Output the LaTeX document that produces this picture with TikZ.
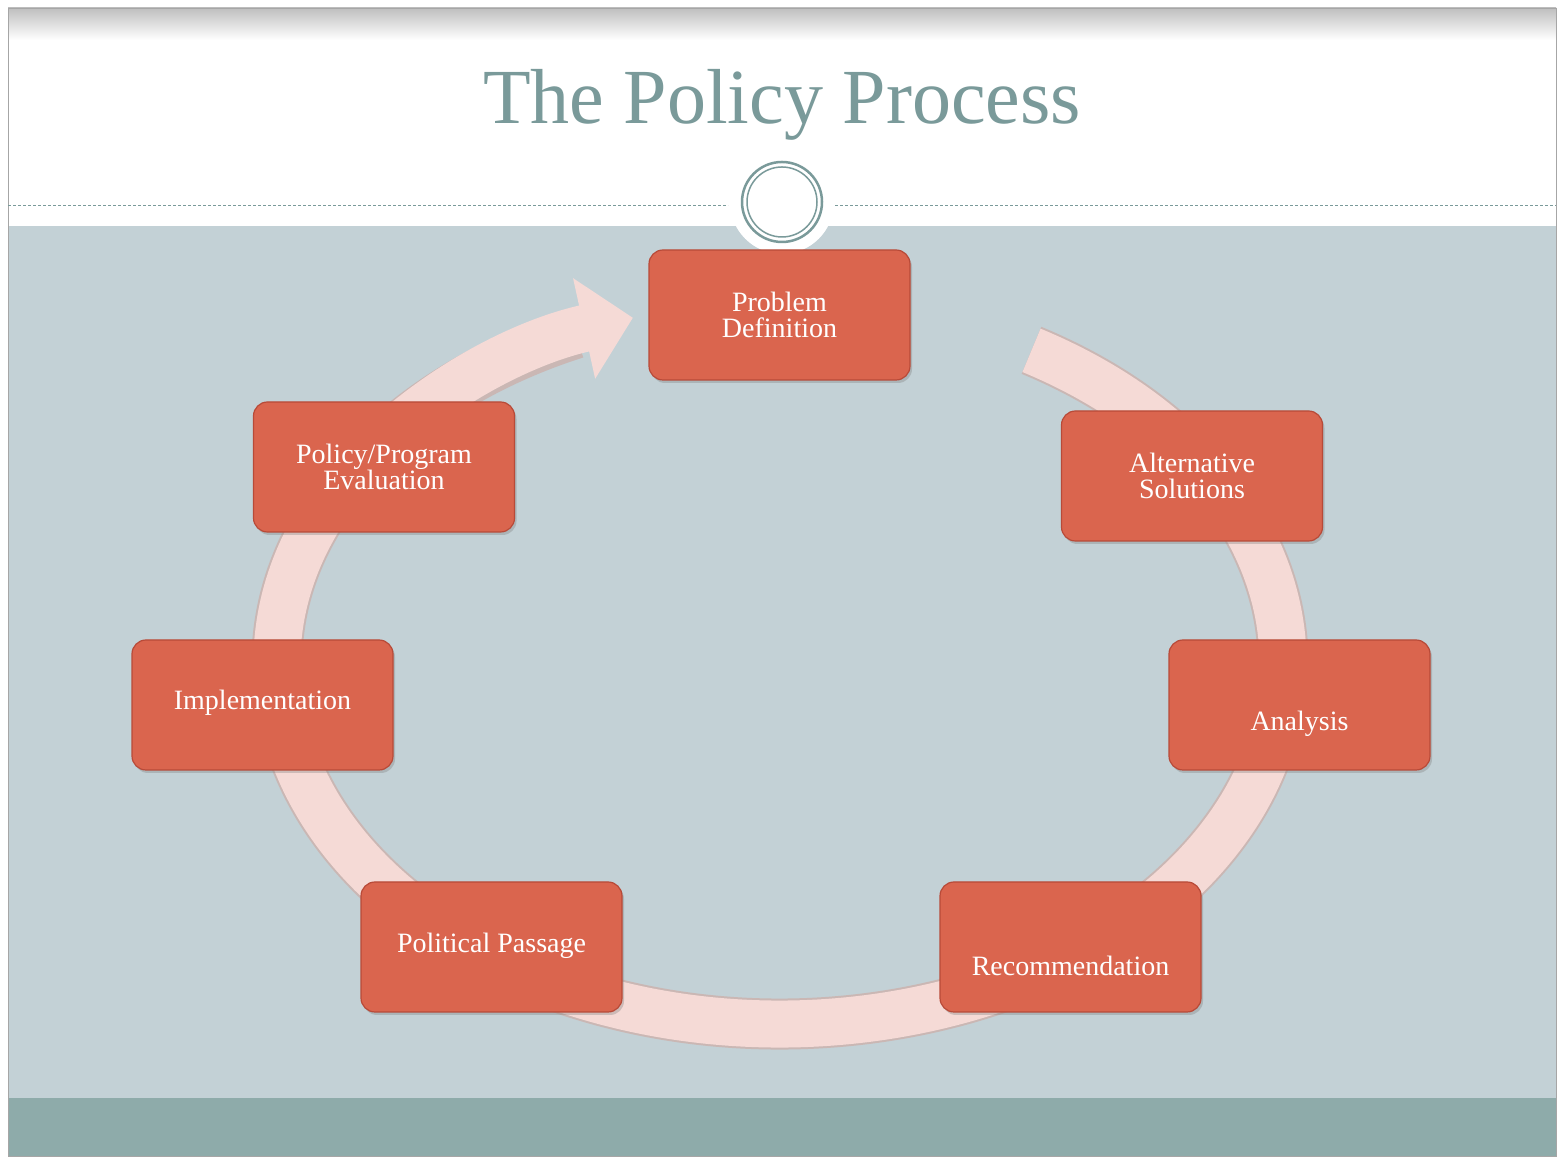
\documentclass[tikz,border=0pt]{standalone}
\usepackage{fontspec}
\setmainfont{Liberation Serif}
\usetikzlibrary{arrows.meta,shadows}
\definecolor{teal}{HTML}{7A9A9A}
\definecolor{bgblue}{HTML}{C3D1D6}
\definecolor{band}{HTML}{8EABAA}
\definecolor{ring}{HTML}{F5DAD6}
\definecolor{boxfill}{HTML}{DA654E}
\definecolor{boxedge}{HTML}{B84A38}
\tikzset{
  stepbox/.style={draw=boxedge,fill=boxfill,line width=1.2pt,rounded corners=14pt,
    minimum width=261pt,minimum height=130pt,drop shadow={opacity=0.35,shadow xshift=2pt,shadow yshift=-3pt}},
  lbl/.style={text=white,font=\fontsize{28}{28}\selectfont,align=center}
}
\begin{document}
\begin{tikzpicture}[x=1pt,y=1pt]
\useasboundingbox (0,0) rectangle (1566,1166);
\fill[white] (0,0) rectangle (1566,1166);
\shade[top color=black!25,bottom color=white] (8,1126) rectangle (1556,1158);
\fill[bgblue] (8,68) rectangle (1556,940);
\fill[band] (8,10) rectangle (1556,68);
\draw[black!35] (8,10) rectangle (1556,1158);
\draw[teal,dashed,dash pattern=on 3pt off 2pt] (8,961) -- (728,961);
\draw[teal,dashed,dash pattern=on 3pt off 2pt] (835,961) -- (1556,961);
\node[circle,fill=white,minimum size=104pt,inner sep=0] (hc) at (782,964) {};
\draw[teal,line width=2.5pt] (hc.center) circle (40);
\draw[teal,line width=1.5pt] (hc.center) circle (35);
\node[text=teal,font=\fontsize{78}{78}\selectfont] (title) at (782,1061) {The Policy Process};
\coordinate (c) at (780,503);
\draw[ring!80!black!90,line width=51pt] (c) ++(60:503 and 361) arc[start angle=60,end angle=-246,x radius=503,y radius=361];
\draw[ring,line width=47pt,-{Triangle[width=100pt,length=50pt]}] (c) ++(60:503 and 361) arc[start angle=60,end angle=-253,x radius=503,y radius=361];
\node[stepbox] (pd) at (779.5,851) {};
\node[lbl] at (pd.center) {Problem\\[-2pt]Definition};
\node[stepbox] (as) at (1192,690) {};
\node[lbl] at (as.center) {Alternative\\[-2pt]Solutions};
\node[stepbox] (an) at (1299.5,461) {};
\node[lbl] at (1299.5,442) {Analysis};
\node[stepbox] (rc) at (1070.5,219) {};
\node[lbl] at (1070.5,200) {Recommendation};
\node[stepbox] (pp) at (491.5,219) {};
\node[lbl] at (491.5,220) {Political Passage};
\node[stepbox] (im) at (262.5,461) {};
\node[lbl] at (262.5,463) {Implementation};
\node[stepbox] (ev) at (384,699) {};
\node[lbl] at (ev.center) {Policy/Program\\[-2pt]Evaluation};
\end{tikzpicture}
\end{document}
